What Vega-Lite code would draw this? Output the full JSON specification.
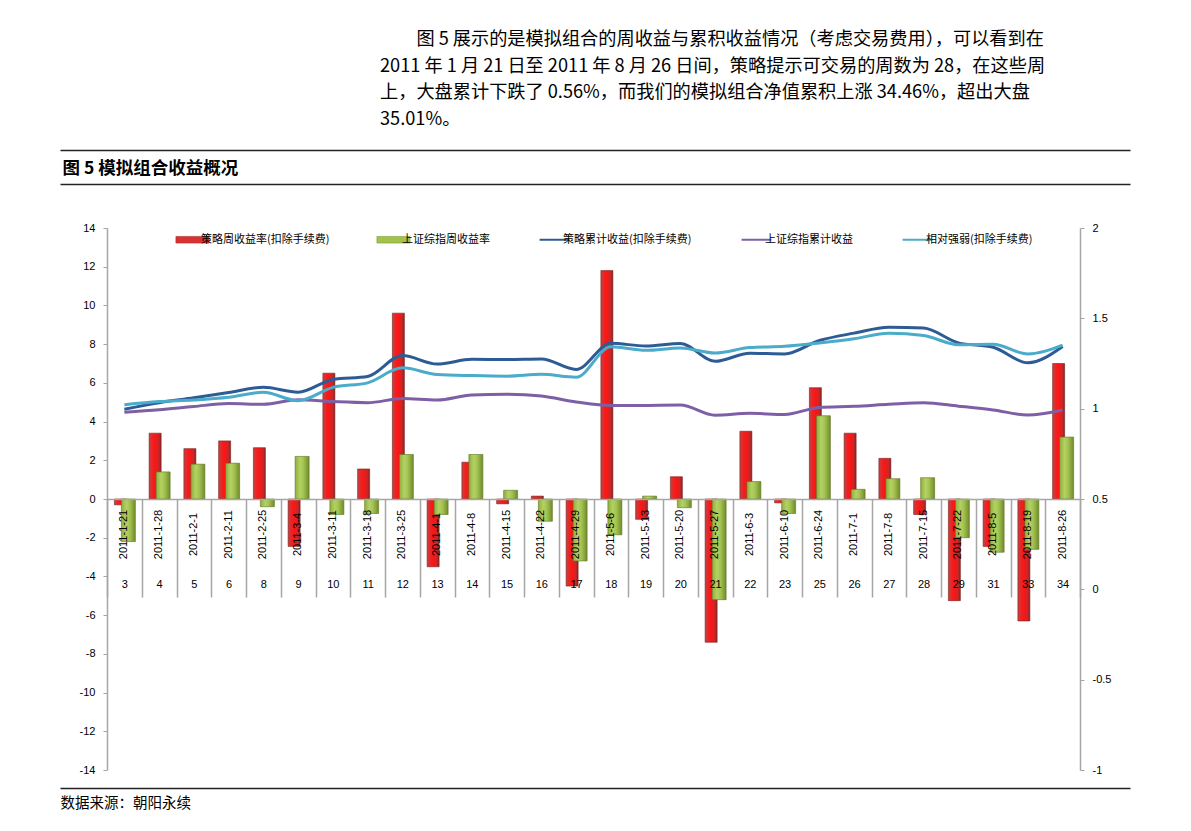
{
  "$schema": "https://vega.github.io/schema/vega-lite/v6.json",
  "width": 973,
  "height": 542,
  "autosize": {"type": "none"},
  "padding": {"left": 107, "top": 228, "right": 111, "bottom": 61},
  "background": "white",
  "config": {
    "view": {"stroke": null},
    "font": "Liberation Sans",
    "axis": {"grid": false, "labelFont": "Liberation Sans", "labelFontSize": 11, "labelColor": "#000"}
  },
  "title": {
    "text": [
      "\u200b　　图 5 展示的是模拟组合的周收益与累积收益情况（考虑交易费用），可以看到在",
      "2011 年 1 月 21 日至 2011 年 8 月 26 日间，策略提示可交易的周数为 28，在这些周",
      "上，大盘累计下跌了 0.56%，而我们的模拟组合净值累积上涨 34.46%，超出大盘",
      "35.01%。"
    ],
    "anchor": "start",
    "frame": "group",
    "dx": 273,
    "offset": 21,
    "font": "Noto Sans CJK SC",
    "fontSize": 18.2,
    "fontWeight": "normal",
    "lineHeight": 26.5,
    "color": "#000"
  },
  "data": {
    "values": [
      {"date": "2011-1-21", "week": "3", "strategy": -0.3, "sse": -2.2, "strategyCum": 0.997, "sseCum": 0.98, "relative": 1.022},
      {"date": "2011-1-28", "week": "4", "strategy": 3.4, "sse": 1.4, "strategyCum": 1.033, "sseCum": 0.994, "relative": 1.039},
      {"date": "2011-2-1", "week": "5", "strategy": 2.6, "sse": 1.8, "strategyCum": 1.06, "sseCum": 1.012, "relative": 1.048},
      {"date": "2011-2-11", "week": "6", "strategy": 3.0, "sse": 1.85, "strategyCum": 1.09, "sseCum": 1.028, "relative": 1.063},
      {"date": "2011-2-25", "week": "8", "strategy": 2.65, "sse": -0.4, "strategyCum": 1.118, "sseCum": 1.024, "relative": 1.091},
      {"date": "2011-3-4", "week": "9", "strategy": -2.45, "sse": 2.2, "strategyCum": 1.091, "sseCum": 1.049, "relative": 1.044},
      {"date": "2011-3-11", "week": "10", "strategy": 6.5, "sse": -0.8, "strategyCum": 1.162, "sseCum": 1.039, "relative": 1.118},
      {"date": "2011-3-18", "week": "11", "strategy": 1.55, "sse": -0.75, "strategyCum": 1.178, "sseCum": 1.033, "relative": 1.143},
      {"date": "2011-3-25", "week": "12", "strategy": 9.6, "sse": 2.3, "strategyCum": 1.294, "sseCum": 1.056, "relative": 1.226},
      {"date": "2011-4-1", "week": "13", "strategy": -3.5, "sse": -0.8, "strategyCum": 1.247, "sseCum": 1.048, "relative": 1.189},
      {"date": "2011-4-8", "week": "14", "strategy": 1.9, "sse": 2.3, "strategyCum": 1.273, "sseCum": 1.076, "relative": 1.183},
      {"date": "2011-4-15", "week": "15", "strategy": -0.25, "sse": 0.45, "strategyCum": 1.272, "sseCum": 1.08, "relative": 1.18},
      {"date": "2011-4-22", "week": "16", "strategy": 0.15, "sse": -1.15, "strategyCum": 1.275, "sseCum": 1.07, "relative": 1.19},
      {"date": "2011-4-29", "week": "17", "strategy": -4.5, "sse": -3.2, "strategyCum": 1.217, "sseCum": 1.037, "relative": 1.174},
      {"date": "2011-5-6", "week": "18", "strategy": 11.8, "sse": -1.85, "strategyCum": 1.362, "sseCum": 1.017, "relative": 1.343},
      {"date": "2011-5-13", "week": "19", "strategy": -1.05, "sse": 0.15, "strategyCum": 1.347, "sseCum": 1.018, "relative": 1.323},
      {"date": "2011-5-20", "week": "20", "strategy": 1.15, "sse": -0.45, "strategyCum": 1.361, "sseCum": 1.02, "relative": 1.336},
      {"date": "2011-5-27", "week": "21", "strategy": -7.4, "sse": -5.2, "strategyCum": 1.262, "sseCum": 0.964, "relative": 1.308},
      {"date": "2011-6-3", "week": "22", "strategy": 3.5, "sse": 0.9, "strategyCum": 1.307, "sseCum": 0.974, "relative": 1.338},
      {"date": "2011-6-10", "week": "23", "strategy": -0.2, "sse": -0.75, "strategyCum": 1.303, "sseCum": 0.968, "relative": 1.345},
      {"date": "2011-6-24", "week": "25", "strategy": 5.75, "sse": 4.3, "strategyCum": 1.377, "sseCum": 1.007, "relative": 1.364},
      {"date": "2011-7-1", "week": "26", "strategy": 3.4, "sse": 0.5, "strategyCum": 1.418, "sseCum": 1.013, "relative": 1.387},
      {"date": "2011-7-8", "week": "27", "strategy": 2.1, "sse": 1.05, "strategyCum": 1.451, "sseCum": 1.024, "relative": 1.417},
      {"date": "2011-7-15", "week": "28", "strategy": -0.8, "sse": 1.1, "strategyCum": 1.446, "sseCum": 1.033, "relative": 1.405},
      {"date": "2011-7-22", "week": "29", "strategy": -5.25, "sse": -2.0, "strategyCum": 1.364, "sseCum": 1.014, "relative": 1.354},
      {"date": "2011-8-5", "week": "31", "strategy": -2.45, "sse": -2.75, "strategyCum": 1.34, "sseCum": 0.993, "relative": 1.356},
      {"date": "2011-8-19", "week": "33", "strategy": -6.3, "sse": -2.6, "strategyCum": 1.254, "sseCum": 0.965, "relative": 1.303},
      {"date": "2011-8-26", "week": "34", "strategy": 7.0, "sse": 3.2, "strategyCum": 1.344, "sseCum": 0.993, "relative": 1.352}
    ]
  },
  "layer": [
    {
      "mark": {
        "type": "bar", "width": 12, "xOffset": -4, "stroke": "#7a2020", "strokeWidth": 0.6,
        "color": {"gradient": "linear", "x1": 0, "y1": 0, "x2": 1, "y2": 0,
          "stops": [{"offset": 0, "color": "#c24444"}, {"offset": 0.3, "color": "#f02020"}, {"offset": 0.5, "color": "#ff1414"}, {"offset": 0.8, "color": "#c82828"}, {"offset": 1, "color": "#8a2424"}]}
      },
      "encoding": {
        "x": {"field": "week", "type": "nominal", "sort": null, "scale": {"type": "band", "paddingInner": 0, "paddingOuter": 0},
          "axis": {"orient": "bottom", "offset": -271, "title": null, "zindex": 1, "domain": true, "domainColor": "#a6a6a6", "domainWidth": 1.5,
            "ticks": true, "tickBand": "extent", "tickSize": 98, "tickColor": "#a6a6a6", "tickWidth": 1.5,
            "labelAngle": 0, "labelPadding": -13, "labelBaseline": "middle", "labelAlign": "center", "labelOverlap": false, "labelFontSize": 11}},
        "y": {"field": "strategy", "type": "quantitative", "scale": {"domain": [-14, 14], "nice": false, "zero": false},
          "axis": {"orient": "left", "values": [-14, -12, -10, -8, -6, -4, -2, 0, 2, 4, 6, 8, 10, 12, 14], "labelExpr": "'' + datum.value", "title": null,
            "domainColor": "#a6a6a6", "domainWidth": 1.5, "tickColor": "#a6a6a6", "tickSize": 4, "labelPadding": 8, "labelFontSize": 11}}
      }
    },
    {
      "mark": {
        "type": "bar", "width": 14, "xOffset": 4, "stroke": "#5e7424", "strokeWidth": 0.6,
        "color": {"gradient": "linear", "x1": 0, "y1": 0, "x2": 1, "y2": 0,
          "stops": [{"offset": 0, "color": "#8fae3c"}, {"offset": 0.35, "color": "#b4d264"}, {"offset": 0.6, "color": "#a4c250"}, {"offset": 1, "color": "#6f8c2c"}]}
      },
      "encoding": {
        "x": {"field": "date", "type": "nominal", "sort": null, "scale": {"type": "band", "paddingInner": 0, "paddingOuter": 0},
          "axis": {"orient": "bottom", "offset": -271, "title": null, "zindex": 1, "domain": false, "ticks": false, "tickSize": 0,
            "labelAngle": -90, "labelAlign": "center", "labelBaseline": "middle", "labelPadding": 35, "labelOverlap": false, "labelFontSize": 11}},
        "y": {"field": "sse", "type": "quantitative", "scale": {"domain": [-14, 14], "nice": false, "zero": false}, "axis": null}
      }
    },
    {
      "mark": {"type": "line", "interpolate": "monotone", "strokeWidth": 3},
      "encoding": {
        "x": {"field": "date", "type": "nominal", "sort": null, "scale": {"type": "point", "padding": 0.5}, "axis": null},
        "y": {"field": "strategyCum", "type": "quantitative", "scale": {"domain": [-1, 2], "nice": false, "zero": false},
          "axis": {"orient": "right", "values": [-1, -0.5, 0, 0.5, 1, 1.5, 2], "labelExpr": "'' + datum.value", "title": null,
            "domainColor": "#a6a6a6", "domainWidth": 1.5, "tickColor": "#a6a6a6", "tickSize": 4, "labelPadding": 8, "labelFontSize": 11}},
        "color": {
          "datum": "策略累计收益(扣除手续费)", "type": "nominal",
          "scale": {
            "domain": ["策略周收益率(扣除手续费)", "上证综指周收益率", "策略累计收益(扣除手续费)", "上证综指累计收益", "相对强弱(扣除手续费)"],
            "range": ["#a83030", "#7f9c36", "#2d5b95", "#7e5fa5", "#4aabcb"]
          },
          "legend": {
            "orient": "none", "legendX": 80, "legendY": 6, "direction": "horizontal", "columns": 5, "title": null,
            "symbolSize": 1100, "labelFontSize": 11, "labelFont": "Noto Sans CJK SC", "labelColor": "#000", "labelOffset": 3, "columnPadding": 45,
            "encode": {
              "symbols": {
                "update": {
                  "shape": {"signal": "(datum.value === '策略周收益率(扣除手续费)' || datum.value === '上证综指周收益率') ? 'M-1,-0.2H1V0.2H-1Z' : 'M-0.9,0H0.9'"},
                  "fill": {"signal": "datum.value === '策略周收益率(扣除手续费)' ? '#d83232' : (datum.value === '上证综指周收益率' ? '#a2c24c' : 'transparent')"},
                  "strokeWidth": {"signal": "(datum.value === '策略周收益率(扣除手续费)' || datum.value === '上证综指周收益率') ? 0.6 : 2"}
                }
              }
            }
          }
        }
      }
    },
    {
      "mark": {"type": "line", "interpolate": "monotone", "strokeWidth": 3},
      "encoding": {
        "x": {"field": "date", "type": "nominal", "sort": null, "scale": {"type": "point", "padding": 0.5}, "axis": null},
        "y": {"field": "sseCum", "type": "quantitative", "scale": {"domain": [-1, 2], "nice": false, "zero": false}, "axis": null},
        "color": {"datum": "上证综指累计收益", "type": "nominal"}
      }
    },
    {
      "mark": {"type": "line", "interpolate": "monotone", "strokeWidth": 3},
      "encoding": {
        "x": {"field": "date", "type": "nominal", "sort": null, "scale": {"type": "point", "padding": 0.5}, "axis": null},
        "y": {"field": "relative", "type": "quantitative", "scale": {"domain": [-1, 2], "nice": false, "zero": false}, "axis": null},
        "color": {"datum": "相对强弱(扣除手续费)", "type": "nominal"}
      }
    },
    {
      "mark": {"type": "text", "text": ""},
      "encoding": {
        "x": {"field": "date", "type": "nominal", "sort": null, "scale": {"type": "point", "range": [-47, 1023]},
          "axis": {"orient": "top", "offset": 44, "labels": false, "ticks": false, "domain": true, "domainColor": "#222", "domainWidth": 1.3,
            "title": "图 5 模拟组合收益概况", "titleX": -45, "titleY": -16, "titleAlign": "left", "titleAnchor": "start", "titleBaseline": "middle",
            "titleFont": "Noto Sans CJK SC", "titleFontSize": 17.5, "titleFontWeight": "bold", "titleColor": "#000"}}
      }
    },
    {
      "mark": {"type": "text", "text": ""},
      "encoding": {
        "x": {"field": "date", "type": "nominal", "sort": null, "scale": {"type": "point", "range": [-47, 1023]},
          "axis": {"orient": "top", "offset": 78, "labels": false, "ticks": false, "domain": true, "domainColor": "#222", "domainWidth": 1.3, "title": null}}
      }
    },
    {
      "mark": {"type": "text", "text": ""},
      "encoding": {
        "x": {"field": "date", "type": "nominal", "sort": null, "scale": {"type": "point", "range": [-47, 1023]},
          "axis": {"orient": "bottom", "offset": 18, "labels": false, "ticks": false, "domain": true, "domainColor": "#222", "domainWidth": 1.3,
            "title": "数据来源：朝阳永续", "titleX": -47, "titleY": 15, "titleAlign": "left", "titleAnchor": "start", "titleBaseline": "middle",
            "titleFont": "Noto Sans CJK SC", "titleFontSize": 14.5, "titleFontWeight": "normal", "titleColor": "#000"}}
      }
    }
  ],
  "resolve": {
    "scale": {"x": "independent", "y": "independent"},
    "axis": {"x": "independent", "y": "independent"}
  }
}
